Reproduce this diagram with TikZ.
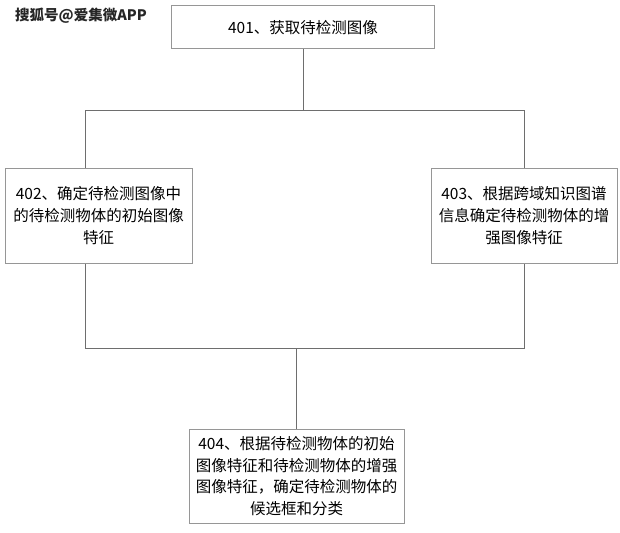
\documentclass[tikz,border=0pt]{standalone}
\usepackage{fontspec}
\setmainfont{Noto Sans CJK SC}
\newfontfamily\cjkbold[BoldFont={Noto Sans CJK SC Bold}]{Noto Sans CJK SC}
\usetikzlibrary{positioning, calc}
\definecolor{boxgray}{RGB}{150, 150, 150}
\definecolor{linegray}{RGB}{110, 110, 110}

\begin{document}
\begin{tikzpicture}[
  x=1pt, y=-1pt,
  stepbox/.style={draw=boxgray, line width=1pt, fill=white, align=center, inner sep=2pt, font=\fontsize{15.5}{21.7}\selectfont},
  link/.style={draw=linegray, line width=0.9pt}
]
  \useasboundingbox (0,0) rectangle (620,532);
  % watermark
  \node[font=\fontsize{14.5}{16}\selectfont\bfseries, text=black!85] (mark) at (81,16) {搜狐号@爱集微APP};
  % steps
  \node[stepbox, minimum width=263pt, minimum height=43pt] (s401) at (303,27.5) {401、获取待检测图像};
  \node[stepbox, minimum width=187pt, minimum height=95pt] (s402) at (98.5,215.5) {402、确定待检测图像中\\的待检测物体的初始图像\\特征};
  \node[stepbox, minimum width=186pt, minimum height=95pt] (s403) at (524,215.5) {403、根据跨域知识图谱\\信息确定待检测物体的增\\强图像特征};
  \node[stepbox, minimum width=215pt, minimum height=94pt] (s404) at (296.5,476) {404、根据待检测物体的初始\\图像特征和待检测物体的增强\\图像特征，确定待检测物体的\\候选框和分类};
  % junctions
  \coordinate (splitL) at (85,110);
  \coordinate (splitR) at (524,110);
  \coordinate (mergeL) at (85,348);
  \coordinate (mergeR) at (524,348);
  % connectors
  \draw[link] (s401.south) -- (s401.south |- splitL);
  \draw[link] (splitL) -- (splitR);
  \draw[link] (splitL) -- (splitL |- s402.north);
  \draw[link] (splitR) -- (s403.north);
  \draw[link] (splitL |- s402.south) -- (mergeL) -- (mergeR) -- (s403.south);
  \draw[link] (s404.north) -- (s404.north |- mergeL);
\end{tikzpicture}
\end{document}
